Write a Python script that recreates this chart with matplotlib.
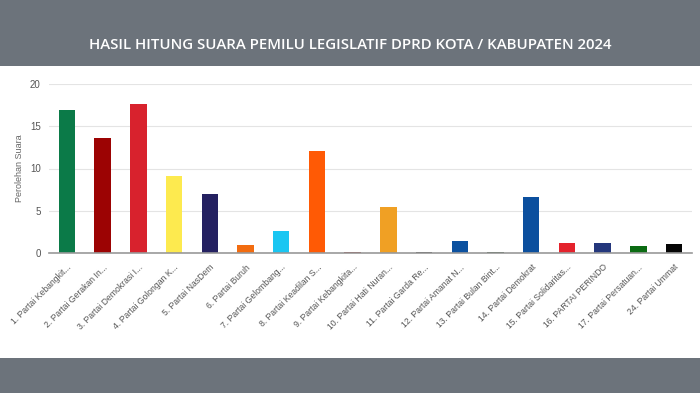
import matplotlib
matplotlib.use("Agg")
import matplotlib.pyplot as plt
from matplotlib.patches import Rectangle

title = "HASIL HITUNG SUARA PEMILU LEGISLATIF DPRD KOTA / KABUPATEN 2024"
categories = [
    "1. Partai Kebangkit...", "2. Partai Gerakan In...", "3. Partai Demokrasi I...",
    "4. Partai Golongan K...", "5. Partai NasDem", "6. Partai Buruh",
    "7. Partai Gelombang...", "8. Partai Keadilan S...", "9. Partai Kebangkita...",
    "10. Partai Hati Nuran...", "11. Partai Garda Re...", "12. Partai Amanat N...",
    "13. Partai Bulan Bint...", "14. Partai Demokrat", "15. Partai Solidaritas...",
    "16. PARTAI PERINDO", "17. Partai Persatuan...", "24. Partai Ummat",
]
values = [16.9, 13.6, 17.6, 9.1, 7.0, 0.95, 2.6, 12.1, 0.1, 5.4, 0.1, 1.4,
          0.15, 6.6, 1.2, 1.2, 0.85, 1.1]
colors = ["#0b7a48", "#9c0303", "#d8222d", "#fdea4f", "#242161", "#f26c10",
          "#1ac6f2", "#ff5a05", "#8b1a1a", "#f0a024", "#222222", "#0b51a0",
          "#1a3a1a", "#0b4f9e", "#e4222c", "#24377c", "#0b6b12", "#050505"]
yticks = [0, 5, 10, 15, 20]
ylabel = "Perolehan Suara"

band = "#6c737b"
fig = plt.figure(figsize=(7, 3.93), dpi=100)
fig.patch.set_facecolor("white")
fig.patches.append(Rectangle((0, 1 - 66 / 393), 1, 66 / 393, transform=fig.transFigure,
                             facecolor=band, edgecolor="none", zorder=0))
fig.patches.append(Rectangle((0, 0), 1, 35 / 393, transform=fig.transFigure,
                             facecolor=band, edgecolor="none", zorder=0))
fig.text(0.5, 1 - 45 / 393, title, ha="center", va="center", color="white",
         fontsize=10.8, family="Open Sans", fontweight="semibold")

ax = fig.add_axes([49 / 700, 1 - 253 / 393, (692 - 49) / 700, (253 - 84) / 393])
x = list(range(len(categories)))
ax.bar(x, values, width=0.46, color=colors, zorder=3)
ax.set_xlim(-0.5, len(categories) - 0.5)
ax.set_ylim(0, 20)
ax.set_yticks(yticks)
ax.set_yticklabels([str(t) for t in yticks], fontsize=7, color="#555555",
                   family="Liberation Sans")
ax.set_xticks(x)
ax.set_xticklabels(categories, rotation=45, ha="right", rotation_mode="anchor",
                   fontsize=6.2, color="#555555", family="Liberation Sans")
ax.tick_params(axis="both", length=0, pad=6)
ax.tick_params(axis="x", pad=7)
ax.grid(axis="y", color="#e4e4e4", linewidth=0.8, zorder=0)
for s in ["top", "right", "left"]:
    ax.spines[s].set_visible(False)
ax.spines["bottom"].set_color("#999999")
ax.spines["bottom"].set_linewidth(1.2)
ax.spines["bottom"].set_zorder(4)
ax.set_ylabel(ylabel, fontsize=6.5, color="#666666", family="Liberation Sans", labelpad=4)

fig.savefig("out.png", dpi=100, facecolor=fig.get_facecolor())
